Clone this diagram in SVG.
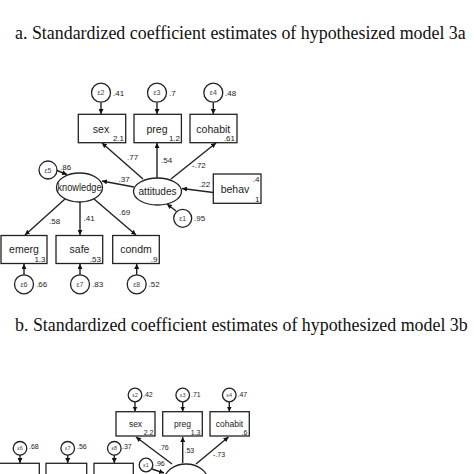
<svg xmlns="http://www.w3.org/2000/svg" width="474" height="474" viewBox="0 0 474 474">
<style>
.title{font-family:"Liberation Serif","Times New Roman",serif;font-size:17.9px;fill:#111}
.box{fill:#fff;stroke:#222;stroke-width:1.3}
.lat{fill:#fff;stroke:#222;stroke-width:1.3}
.err{fill:#fff;stroke:#222;stroke-width:1.3}
.lbl{font-family:"Liberation Sans",Arial,sans-serif;font-size:10.5px;fill:#222;text-anchor:middle}
.lblb{font-family:"Liberation Sans",Arial,sans-serif;font-size:8.5px;fill:#222;text-anchor:middle}
.num{font-family:"Liberation Sans",Arial,sans-serif;font-size:8px;fill:#222}
.numb{font-family:"Liberation Sans",Arial,sans-serif;font-size:7px;fill:#222}
.r{text-anchor:end}
.eps{font-family:"Liberation Sans",Arial,sans-serif;font-size:7px;fill:#444;text-anchor:middle}
.epsb{font-family:"Liberation Sans",Arial,sans-serif;font-size:5.5px;fill:#444;text-anchor:middle}
.conn line{stroke:#222;stroke-width:1.4;marker-end:url(#ah)}
</style>
<defs>
<marker id="ah" viewBox="0 0 10 10" refX="10" refY="5" markerWidth="5" markerHeight="5" orient="auto" markerUnits="userSpaceOnUse">
<path d="M0,0 L10,5 L0,10 z" fill="#111"/>
</marker>
</defs>
<rect width="474" height="474" fill="#fff"/>
<text class="title" x="15" y="38.5">a. Standardized coefficient estimates of hypothesized model 3a</text>
<text class="title" x="15" y="331">b. Standardized coefficient estimates of hypothesized model 3b</text>

<!-- Part a connectors -->
<g class="conn" id="conn-a">
<line x1="101" y1="102.5" x2="101" y2="114"/>
<line x1="157" y1="102.5" x2="157" y2="114"/>
<line x1="213.3" y1="102.5" x2="213.3" y2="114"/>
<line x1="143" y1="179" x2="102" y2="143"/>
<line x1="157" y1="178" x2="157" y2="143"/>
<line x1="171" y1="179" x2="216" y2="143"/>
<line x1="134" y1="187" x2="102" y2="181"/>
<line x1="213.3" y1="192.5" x2="182" y2="188.5"/>
<line x1="176" y1="211" x2="167" y2="204"/>
<line x1="57" y1="170.5" x2="67" y2="174.5"/>
<line x1="65" y1="199" x2="25" y2="235"/>
<line x1="80" y1="202" x2="80" y2="235"/>
<line x1="94" y1="199" x2="136" y2="235"/>
<line x1="24" y1="275" x2="24" y2="264"/>
<line x1="80" y1="275" x2="80" y2="264"/>
<line x1="136.7" y1="275" x2="136.7" y2="264"/>
</g>

<!-- Part a nodes -->
<g id="a-e2"><circle class="err" cx="101" cy="92.7" r="9.5"/><text class="eps" x="101" y="95.2">ε2</text><text class="num" x="113" y="96">.41</text></g>
<g id="a-e3"><circle class="err" cx="157" cy="92.7" r="9.5"/><text class="eps" x="157" y="95.2">ε3</text><text class="num" x="169" y="96">.7</text></g>
<g id="a-e4"><circle class="err" cx="213.3" cy="92.7" r="9.5"/><text class="eps" x="213.3" y="95.2">ε4</text><text class="num" x="225" y="96">.48</text></g>
<g id="a-sex"><rect class="box" x="78.3" y="114.3" width="47.4" height="28.4"/><text class="lbl" x="101" y="133">sex</text><text class="num r" x="124" y="141">2.1</text></g>
<g id="a-preg"><rect class="box" x="134" y="114.3" width="47.4" height="28.4"/><text class="lbl" x="157" y="133">preg</text><text class="num r" x="180" y="141">1.2</text></g>
<g id="a-cohabit"><rect class="box" x="190" y="114.3" width="47" height="28.4"/><text class="lbl" x="213.3" y="133">cohabit</text><text class="num r" x="235" y="141">.61</text></g>
<g id="a-attitudes"><ellipse class="lat" cx="157.5" cy="191.5" rx="24" ry="13.5"/><text class="lbl" x="157.5" y="195.3" textLength="38" lengthAdjust="spacingAndGlyphs">attitudes</text></g>
<g id="a-knowledge"><ellipse class="lat" cx="79.5" cy="187.5" rx="23" ry="14.5"/><text class="lbl" x="79.5" y="191.3" textLength="44" lengthAdjust="spacingAndGlyphs">knowledge</text></g>
<g id="a-behav"><rect class="box" x="213.3" y="174" width="47.7" height="29.3"/><text class="lbl" x="235" y="193">behav</text><text class="num r" x="259.5" y="182">.4</text><text class="num r" x="259.5" y="201.5">1</text></g>
<g id="a-e1"><circle class="err" cx="182.7" cy="218.3" r="9"/><text class="eps" x="182.7" y="220.8">ε1</text><text class="num" x="194" y="221.3">.95</text></g>
<g id="a-e5"><circle class="err" cx="48" cy="170" r="9"/><text class="eps" x="48" y="172.5">ε5</text><text class="num" x="60" y="170">.86</text></g>
<g id="a-emerg"><rect class="box" x="1" y="235.5" width="46" height="28"/><text class="lbl" x="24" y="253">emerg</text><text class="num r" x="45.5" y="261.5">1.3</text></g>
<g id="a-safe"><rect class="box" x="56" y="235.5" width="46.7" height="28"/><text class="lbl" x="79.5" y="253">safe</text><text class="num r" x="101" y="261.5">.53</text></g>
<g id="a-condm"><rect class="box" x="112.7" y="235.5" width="46.6" height="28"/><text class="lbl" x="136" y="253">condm</text><text class="num r" x="157.5" y="261.5">.9</text></g>
<g id="a-e6"><circle class="err" cx="24" cy="284.3" r="9.5"/><text class="eps" x="24" y="286.8">ε6</text><text class="num" x="36" y="287.3">.66</text></g>
<g id="a-e7"><circle class="err" cx="80" cy="284.3" r="9.5"/><text class="eps" x="80" y="286.8">ε7</text><text class="num" x="92" y="287.3">.83</text></g>
<g id="a-e8"><circle class="err" cx="136.7" cy="284.3" r="9.5"/><text class="eps" x="136.7" y="286.8">ε8</text><text class="num" x="148.5" y="287.3">.52</text></g>
<g id="a-labels">
<text class="num" x="127" y="159.5">.77</text>
<text class="num" x="161" y="162.5">.54</text>
<text class="num" x="192" y="168">-.72</text>
<text class="num" x="118.5" y="182">.37</text>
<text class="num" x="199" y="187">.22</text>
<text class="num" x="49" y="223.5">.58</text>
<text class="num" x="83.5" y="221">.41</text>
<text class="num" x="119" y="215">.69</text>
</g>

<!-- Part b connectors -->
<g class="conn" id="conn-b">
<line x1="135" y1="402" x2="135" y2="411.5"/>
<line x1="182.7" y1="402" x2="182.7" y2="411.5"/>
<line x1="229.3" y1="402" x2="229.3" y2="411.5"/>
<line x1="172" y1="464" x2="136" y2="437"/>
<line x1="182.7" y1="463" x2="182.7" y2="437"/>
<line x1="196" y1="464" x2="228.5" y2="437"/>
<line x1="152" y1="469" x2="164" y2="473"/>
<line x1="20" y1="455" x2="20" y2="463"/>
<line x1="67.7" y1="455" x2="67.7" y2="463"/>
<line x1="114.3" y1="455" x2="114.3" y2="463"/>
</g>

<!-- Part b nodes -->
<g id="b-e2"><circle class="err" cx="135" cy="395" r="6.8"/><text class="epsb" x="135" y="397">ε2</text><text class="numb" x="143" y="397">.42</text></g>
<g id="b-e3"><circle class="err" cx="182.7" cy="395" r="6.8"/><text class="epsb" x="182.7" y="397">ε3</text><text class="numb" x="191" y="397">.71</text></g>
<g id="b-e4"><circle class="err" cx="229.3" cy="395" r="6.8"/><text class="epsb" x="229.3" y="397">ε4</text><text class="numb" x="237.5" y="397">.47</text></g>
<g id="b-sex"><rect class="box" x="116" y="411.7" width="39" height="24.3"/><text class="lblb" x="135.5" y="427">sex</text><text class="numb r" x="153.5" y="434.5">2.2</text></g>
<g id="b-preg"><rect class="box" x="162.7" y="411.7" width="39.6" height="24.3"/><text class="lblb" x="182.5" y="427">preg</text><text class="numb r" x="200.5" y="434.5">1.3</text></g>
<g id="b-cohabit"><rect class="box" x="210" y="411.7" width="39.3" height="24.3"/><text class="lblb" x="229.5" y="427">cohabit</text><text class="numb r" x="247.5" y="434.5">.6</text></g>
<g id="b-e1"><circle class="err" cx="146" cy="465" r="6.8"/><text class="epsb" x="146" y="467">ε1</text><text class="numb" x="155" y="466">.96</text></g>
<g id="b-att"><ellipse class="lat" cx="186" cy="481" rx="22" ry="17"/></g>
<g id="b-e6"><circle class="err" cx="20" cy="448.3" r="6.8"/><text class="epsb" x="20" y="450.3">ε6</text><text class="numb" x="29" y="449">.68</text></g>
<g id="b-e7"><circle class="err" cx="67.7" cy="448.3" r="6.8"/><text class="epsb" x="67.7" y="450.3">ε7</text><text class="numb" x="77" y="449">.56</text></g>
<g id="b-e8"><circle class="err" cx="114.3" cy="448.3" r="6.8"/><text class="epsb" x="114.3" y="450.3">ε8</text><text class="numb" x="122" y="449">.37</text></g>
<g id="b-box1"><rect class="box" x="-1" y="463.3" width="40.3" height="24"/></g>
<g id="b-box2"><rect class="box" x="46" y="463.3" width="40.7" height="24"/></g>
<g id="b-box3"><rect class="box" x="94" y="463.3" width="39.3" height="24"/></g>
<g id="b-labels">
<text class="numb" x="159" y="450">.76</text>
<text class="numb" x="184.5" y="453">.53</text>
<text class="numb" x="213" y="456.5">-.73</text>
</g>
</svg>
